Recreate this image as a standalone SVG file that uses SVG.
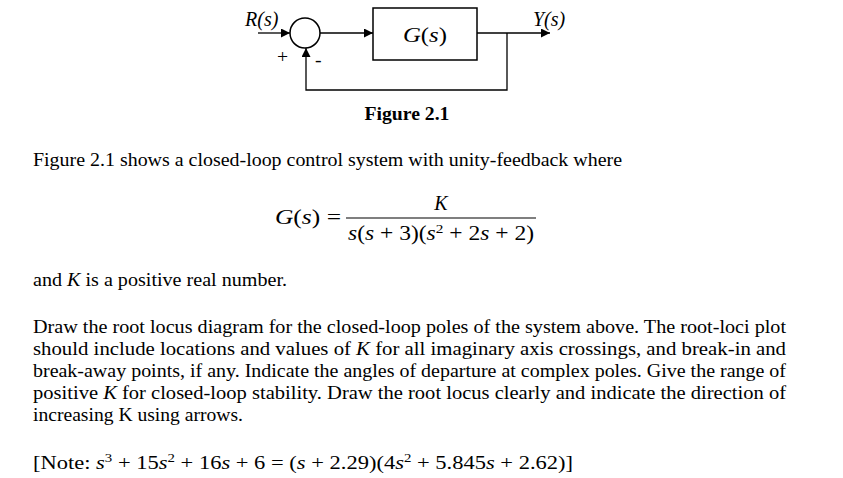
<svg xmlns="http://www.w3.org/2000/svg" width="843" height="478" viewBox="0 0 843 478">
<style>
.t{font-family:"Liberation Serif",serif;font-size:19.7px;fill:#000}
.m{font-family:"Liberation Serif",serif;font-size:20px;font-style:italic;fill:#000}
.n{font-style:normal}
.c{fill:none;stroke:#000;stroke-width:1.3}
</style>
<defs><marker id="a" viewBox="0 0 10 10" refX="10" refY="5" markerWidth="9" markerHeight="9" markerUnits="userSpaceOnUse" orient="auto"><path d="M0,0L10,5L0,10z" fill="#000"/></marker></defs>
<rect width="843" height="478" fill="#fff"/>
<g id="sum"><circle cx="305" cy="33" r="15" fill="#fff" stroke="#000" stroke-width="1.5"/></g>
<g id="G"><rect x="373" y="8" width="104" height="52" fill="#fff" stroke="#000" stroke-width="1.5"/><text x="425" y="42" text-anchor="middle" class="m" font-size="18" textLength="44" lengthAdjust="spacingAndGlyphs">G<tspan class="n">(</tspan>s<tspan class="n">)</tspan></text></g>
<g id="connectors">
<line class="c" x1="258" y1="33" x2="290" y2="33" marker-end="url(#a)"/>
<line class="c" x1="320" y1="33" x2="373" y2="33" marker-end="url(#a)"/>
<line class="c" x1="477" y1="33" x2="550" y2="33" marker-end="url(#a)"/>
<polyline class="c" points="507,33 507,90 306,90 306,48" marker-end="url(#a)"/>
</g>
<text x="245" y="26" class="m" font-size="16">R(s)</text>
<text x="533" y="26" class="m" font-size="16">Y(s)</text>
<text x="277" y="63" class="t" font-size="15">+</text>
<text x="315" y="66" class="t" font-size="15">-</text>
<text x="407" y="120" class="t" font-weight="bold" text-anchor="middle">Figure 2.1</text>
<text x="33" y="166" class="t" textLength="589" lengthAdjust="spacingAndGlyphs">Figure 2.1 shows a closed-loop control system with unity-feedback where</text>
<text x="275" y="224" class="m" textLength="66" lengthAdjust="spacingAndGlyphs">G<tspan class="n">(</tspan>s<tspan class="n">) =</tspan></text>
<text x="441" y="210" class="m" text-anchor="middle">K</text>
<line x1="346" y1="218" x2="536" y2="218" stroke="#000" stroke-width="1.2"/>
<text x="348" y="240" class="m" textLength="186" lengthAdjust="spacingAndGlyphs">s<tspan class="n">(</tspan>s<tspan class="n"> + 3)(</tspan>s<tspan class="n" font-size="13" dy="-7">2</tspan><tspan class="n" dy="7"> + 2</tspan>s<tspan class="n"> + 2)</tspan></text>
<text x="33" y="286" class="t" textLength="254" lengthAdjust="spacingAndGlyphs">and <tspan font-style="italic">K</tspan> is a positive real number.</text>
<text x="33" y="333" class="t" textLength="753" lengthAdjust="spacingAndGlyphs">Draw the root locus diagram for the closed-loop poles of the system above. The root-loci plot</text>
<text x="33" y="355" class="t" textLength="753" lengthAdjust="spacingAndGlyphs">should include locations and values of <tspan font-style="italic">K</tspan> for all imaginary axis crossings, and break-in and</text>
<text x="33" y="377" class="t" textLength="753" lengthAdjust="spacingAndGlyphs">break-away points, if any. Indicate the angles of departure at complex poles. Give the range of</text>
<text x="33" y="399" class="t" textLength="753" lengthAdjust="spacingAndGlyphs">positive <tspan font-style="italic">K</tspan> for closed-loop stability. Draw the root locus clearly and indicate the direction of</text>
<text x="33" y="421" class="t" textLength="210" lengthAdjust="spacingAndGlyphs">increasing K using arrows.</text>
<text x="33" y="469" class="t" textLength="540" lengthAdjust="spacingAndGlyphs">[Note: <tspan font-style="italic">s</tspan><tspan font-size="13" dy="-7">3</tspan><tspan dy="7"> + 15</tspan><tspan font-style="italic">s</tspan><tspan font-size="13" dy="-7">2</tspan><tspan dy="7"> + 16</tspan><tspan font-style="italic">s</tspan> + 6 = (<tspan font-style="italic">s</tspan> + 2.29)(4<tspan font-style="italic">s</tspan><tspan font-size="13" dy="-7">2</tspan><tspan dy="7"> + 5.845</tspan><tspan font-style="italic">s</tspan> + 2.62)]</text>
</svg>
